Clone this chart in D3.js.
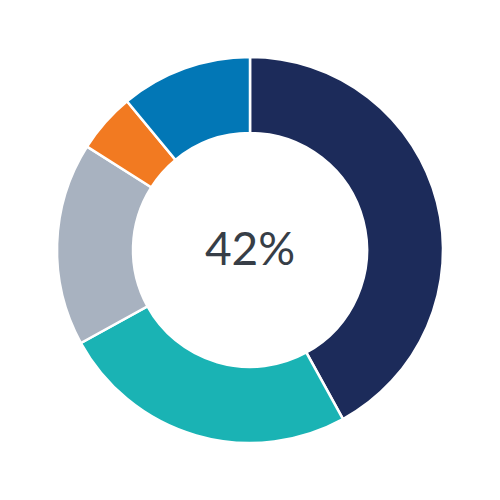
<style>
body { margin: 0; }
</style>
<svg width="500" height="500"></svg>
<script src="https://d3js.org/d3.v7.min.js"></script>
<script>

var categories = ['A', 'B', 'C', 'D', 'E'];
var shares = [42, 25, 17, 5, 11];
var colors = ['#1c2b5a', '#1ab3b4', '#a8b2c0', '#f27a21', '#0277b6'];
var centerLabel = '42%';

var width = 500, height = 500;
var outerR = 193, innerR = 117;

var svg = d3.select('svg');
var g = svg.append('g').attr('transform', 'translate(' + width / 2 + ',' + height / 2 + ')');

var pie = d3.pie().sort(null).value(function(d, i) { return shares[i]; });
var arc = d3.arc().innerRadius(innerR).outerRadius(outerR);

g.selectAll('path')
  .data(pie(categories))
  .enter().append('path')
  .attr('d', arc)
  .attr('fill', function(d, i) { return colors[i]; })
  .attr('stroke', '#fff')
  .attr('stroke-width', 2.5);

g.append('text')
  .attr('text-anchor', 'middle')
  .attr('y', 15)
  .style('font', '400 46px Lato, sans-serif')
  .style('fill', '#373e47')
  .text(centerLabel);

</script>
